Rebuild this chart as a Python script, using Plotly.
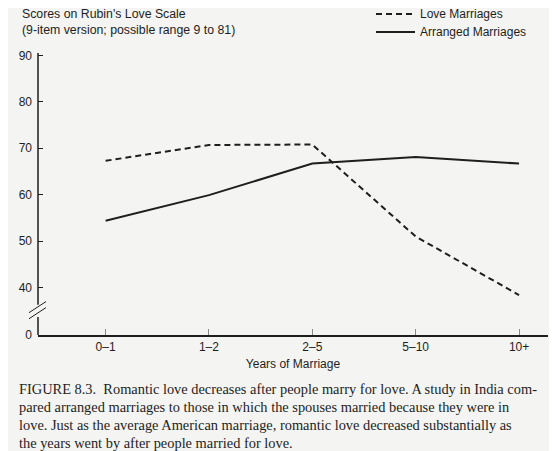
import plotly.graph_objects as go

# data
years = ["0\u20131", "1\u20132", "2\u20135", "5\u201310", "10+"]
love = [67.3, 70.7, 70.8, 51.0, 38.4]
arranged = [54.4, 59.9, 66.7, 68.1, 66.7]

y_tickvals = [29.8, 40, 50, 60, 70, 80, 90]
y_ticktext = ["0", "40", "50", "60", "70", "80", "90"]

caption = [
    "FIGURE 8.3.  Romantic love decreases after people marry for love. A study in India com-",
    "pared arranged marriages to those in which the spouses married because they were in",
    "love. Just as the average American marriage, romantic love decreased substantially as",
    "the years went by after people married for love.",
]

ink = "#1e1e1e"
paper = "#f4f4f2"
sans = "Liberation Sans, Arial, sans-serif"
serif = "Liberation Serif, DejaVu Serif, serif"

# the page body adds an 8px margin, so the figure is a bit smaller and
# reference pixel positions are shifted by OFF
OFF = 8
W, H = 557 - OFF, 451 - OFF
L, R, T, B = 38 - OFF, 9, 53 - OFF, 116
pw, ph = W - L - R, H - T - B


def px_x(p):
    return (p - OFF - L) / pw


def px_y(p):
    return (H - B - (p - OFF)) / ph


fig = go.Figure()
fig.add_trace(go.Scatter(x=years, y=love, mode="lines", name="Love Marriages",
                         line=dict(color=ink, width=2, dash="6px,4px")))
fig.add_trace(go.Scatter(x=years, y=arranged, mode="lines", name="Arranged Marriages",
                         line=dict(color=ink, width=2)))

fig.update_layout(
    width=W, height=H,
    margin=dict(l=L, r=R, t=T, b=B, autoexpand=False),
    paper_bgcolor=paper, plot_bgcolor=paper,
    font=dict(family=sans, size=12, color=ink),
    showlegend=False,
)
fig.update_xaxes(range=[-0.654, 4.28], showgrid=False, zeroline=False,
                 showline=True, linecolor=ink, linewidth=1.5,
                 ticks="inside", ticklen=6, tickcolor="#888",
                 tickfont=dict(size=12),
                 title=dict(text="Years of Marriage", font=dict(size=12), standoff=6))
fig.update_yaxes(range=[29.8, 90.5], showgrid=False, zeroline=False, showline=False,
                 tickvals=y_tickvals, ticktext=y_ticktext, ticklabelstandoff=5,
                 ticks="inside", ticklen=5, tickcolor=ink, tickfont=dict(size=12))

# y axis line with a break between 0 and 40
fig.add_shape(type="line", xref="paper", yref="y", x0=0, x1=0, y0=36.3, y1=90.5,
              line=dict(color=ink, width=1.5))
fig.add_shape(type="line", xref="paper", yref="y", x0=0, x1=0, y0=29.8, y1=33.7,
              line=dict(color=ink, width=1.5))
for yb in [35.8, 34.5]:
    fig.add_shape(type="line", xref="paper", yref="y", xsizemode="pixel", xanchor=0,
                  x0=-9, x1=8, y0=yb - 1.2, y1=yb + 1.2,
                  line=dict(color=ink, width=1))

# legend drawn by hand, top right
for i, (name, dash) in enumerate([("Love Marriages", "6px,4px"), ("Arranged Marriages", "solid")]):
    yy = px_y(14 + 18 * i)
    fig.add_shape(type="line", xref="paper", yref="paper", x0=px_x(376), x1=px_x(415),
                  y0=yy, y1=yy, line=dict(color=ink, width=1.8, dash=dash))
    fig.add_annotation(xref="paper", yref="paper", x=px_x(418), y=yy, xanchor="left",
                       yanchor="middle", text=name, showarrow=False, font=dict(size=12))

# y axis title, top left
for i, line in enumerate(["Scores on Rubin's Love Scale", "(9-item version; possible range 9 to 81)"]):
    fig.add_annotation(xref="paper", yref="paper", x=px_x(20), y=px_y(14 + 16 * i),
                       xanchor="left", yanchor="middle", text=line, showarrow=False,
                       font=dict(size=12.3))

for i, line in enumerate(caption):
    fig.add_annotation(xref="paper", yref="paper", x=px_x(17), y=px_y(389 + 18 * i),
                       xanchor="left", yanchor="middle", text=line, showarrow=False,
                       font=dict(family=serif, size=14.4))

fig.write_html("out.html")
